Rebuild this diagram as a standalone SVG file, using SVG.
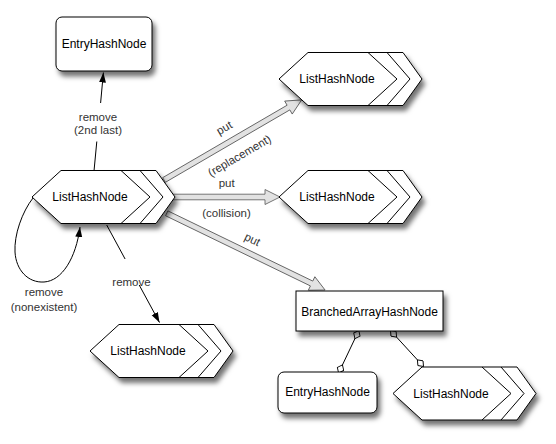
<svg xmlns="http://www.w3.org/2000/svg" xmlns:xlink="http://www.w3.org/1999/xlink" width="556" height="444" viewBox="0 0 556 444">
<style>
.node{fill:#fff;stroke:#000;stroke-width:1}
.chev{fill:none;stroke:#000;stroke-width:1}
.nt{font-family:"Liberation Sans",Arial,sans-serif;font-size:12px;fill:#000;text-anchor:middle}
.lt{font-family:"Liberation Sans",Arial,sans-serif;font-size:11.5px;fill:#333;text-anchor:middle}
.ln{fill:none;stroke:#000;stroke-width:1}
.fat{fill:#e2e2e2;stroke:#555;stroke-width:0.8;stroke-linejoin:miter}
</style>
<defs>
<filter id="sh" x="-20%" y="-30%" width="150%" height="180%">
<feDropShadow dx="3" dy="5" stdDeviation="2.5" flood-color="#000" flood-opacity="0.55"/>
</filter>
<marker id="ah" markerUnits="userSpaceOnUse" markerWidth="11" markerHeight="8" refX="10" refY="3.5" orient="auto">
<path d="M0,0 L10,3.5 L0,7 Z" fill="#000"/>
</marker>
<marker id="dm" markerUnits="userSpaceOnUse" markerWidth="11" markerHeight="9" refX="9.5" refY="4" orient="auto-start-reverse">
<path d="M0.5,4 L5,0.5 L9.5,4 L5,7.5 Z" fill="#fff" stroke="#000" stroke-width="0.9"/>
</marker>
<g id="lhn">
<polygon class="node" points="0,0 29,-26.5 124,-26.5 143,0 124,26.5 29,26.5" filter="url(#sh)"/>
<polyline class="chev" points="89,-26.5 118,0 89,26.5"/>
<polyline class="chev" points="108,-26.5 131,0 108,26.5"/>
</g>
</defs>
<rect width="556" height="444" fill="#fff"/>
<g id="connectors">
<!-- remove (2nd last) -->
<line class="ln" x1="94" y1="171" x2="96.8" y2="141.5"/>
<line class="ln" x1="100.6" y1="103" x2="103.4" y2="72.5" marker-end="url(#ah)"/>
<text class="lt" x="98" y="121">remove</text>
<text class="lt" x="98" y="133.5">(2nd last)</text>
<!-- remove to bottom -->
<line class="ln" x1="106.7" y1="225" x2="125.1" y2="259"/>
<line class="ln" x1="139.2" y1="285" x2="159.5" y2="322.5" marker-end="url(#ah)"/>
<text class="lt" x="131.5" y="286">remove</text>
<!-- self loop remove (nonexistent) -->
<path class="ln" d="M33,198 C22,212 14,235 15,252 C16,270 28,283 44,282 C62,281 76,258 80,227" marker-end="url(#ah)"/>
<text class="lt" x="44" y="296">remove</text>
<text class="lt" x="44" y="310.5">(nonexistent)</text>
<!-- put (replacement) -->
<g transform="translate(164,180) rotate(-30.2)">
<polygon class="fat" points="0,-2.7 144,-2.7 144,-7.5 159.3,0 144,7.5 144,2.7 0,2.7"/>
</g>
<text class="lt" transform="translate(225,129) rotate(-30.2)" x="0" y="2.5">put</text>
<text class="lt" transform="translate(240,156.5) rotate(-30.2)" x="0" y="3">(replacement)</text>
<!-- put (collision) -->
<g transform="translate(172,197)">
<polygon class="fat" points="0,-2.8 93,-2.8 93,-7.5 108,0 93,7.5 93,2.8 0,2.8"/>
</g>
<text class="lt" x="226.7" y="186.5">put</text>
<text class="lt" x="226.5" y="216.5">(collision)</text>
<!-- put to branched -->
<g transform="translate(166.7,213.3) rotate(25.85)">
<polygon class="fat" points="0,-2.7 161,-2.7 161,-7.5 176,0 161,7.5 161,2.7 0,2.7"/>
</g>
<text class="lt" transform="translate(251.7,240.7) rotate(25.85)" x="0" y="2.5">put</text>
<!-- aggregation links -->
<line class="ln" x1="358.8" y1="330.5" x2="338.6" y2="373" marker-start="url(#dm)" marker-end="url(#dm)"/>
<line class="ln" x1="390.5" y1="330.5" x2="423.5" y2="366.5" marker-start="url(#dm)" marker-end="url(#dm)"/>
</g>
<g id="entry-top">
<rect class="node" x="56" y="17" width="96" height="54" rx="6" filter="url(#sh)"/>
<text class="nt" x="104" y="48">EntryHashNode</text>
</g>
<g id="list-main" transform="translate(32,197)">
<use xlink:href="#lhn"/>
<text class="nt" x="58" y="4.2">ListHashNode</text>
</g>
<g id="list-replacement" transform="translate(279,79)">
<use xlink:href="#lhn"/>
<text class="nt" x="58" y="4.2">ListHashNode</text>
</g>
<g id="list-collision" transform="translate(279,197)">
<use xlink:href="#lhn"/>
<text class="nt" x="58" y="4.2">ListHashNode</text>
</g>
<g id="list-removed" transform="translate(90,351)">
<use xlink:href="#lhn"/>
<text class="nt" x="58" y="4.2">ListHashNode</text>
</g>
<g id="branched">
<rect class="node" x="296" y="291" width="147" height="40" filter="url(#sh)"/>
<text class="nt" x="369.5" y="315.5">BranchedArrayHashNode</text>
</g>
<g id="entry-child">
<rect class="node" x="278" y="372" width="99" height="41" rx="6" filter="url(#sh)"/>
<text class="nt" x="327.5" y="396">EntryHashNode</text>
</g>
<g id="list-child" transform="translate(393,393.5)">
<use xlink:href="#lhn"/>
<text class="nt" x="58" y="4.2">ListHashNode</text>
</g>
</svg>
